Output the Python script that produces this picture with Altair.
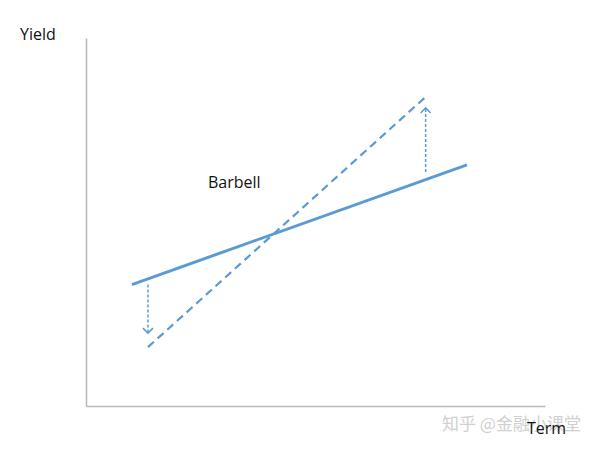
import altair as alt
import pandas as pd

# Values (Term / Yield in arbitrary 0-100 units)
solid_term = [10, 83]
solid_yield = [33, 65.5]
dashed_term = [13.5, 74]
dashed_yield = [16, 84]
arrow_term = [13.5, 74]
arrow_from = [33, 63.6]
arrow_to = [19.8, 81]

W, H = 459, 368
xs = alt.Scale(domain=[0, 100], nice=False, zero=False)
ys = alt.Scale(domain=[0, 100], nice=False, zero=False)
BLUE = "#5b9bd5"

solid_df = pd.DataFrame({"t": solid_term, "y": solid_yield})
dashed_df = pd.DataFrame({"t": dashed_term, "y": dashed_yield})
arrow_df = pd.DataFrame({"t": arrow_term, "y0": arrow_from, "y1": arrow_to,
                         "dir": ["down", "up"]})

axis_x = alt.Axis(title=None, labels=False, ticks=False, grid=False,
                  domainColor="#b4bcc0", domainWidth=1.6)
axis_y = alt.Axis(title=None, labels=False, ticks=False, grid=False,
                  domainColor="#b4bcc0", domainWidth=1.6)

solid = alt.Chart(solid_df).mark_line(color=BLUE, strokeWidth=3).encode(
    x=alt.X("t:Q", scale=xs, axis=axis_x),
    y=alt.Y("y:Q", scale=ys, axis=axis_y),
)
dashed = alt.Chart(dashed_df).mark_line(color=BLUE, strokeWidth=2.2,
                                        strokeDash=[8, 5]).encode(
    x=alt.X("t:Q", scale=xs), y=alt.Y("y:Q", scale=ys))

stems = alt.Chart(arrow_df).mark_rule(color=BLUE, strokeWidth=1.5,
                                      strokeDash=[3, 2]).encode(
    x=alt.X("t:Q", scale=xs), y=alt.Y("y0:Q", scale=ys), y2="y1:Q")

head_down = alt.Chart(arrow_df[arrow_df.dir == "down"]).mark_point(
    shape="M-1,-1L0,0L1,-1", filled=False, color=BLUE, strokeWidth=1.5,
    size=100, opacity=1).encode(x=alt.X("t:Q", scale=xs), y=alt.Y("y1:Q", scale=ys))
head_up = alt.Chart(arrow_df[arrow_df.dir == "up"]).mark_point(
    shape="M-1,1L0,0L1,1", filled=False, color=BLUE, strokeWidth=1.5,
    size=100, opacity=1).encode(x=alt.X("t:Q", scale=xs), y=alt.Y("y1:Q", scale=ys))

FONT = "Open Sans"
yield_t = alt.Chart(pd.DataFrame({"s": ["Yield"]})).mark_text(
    font=FONT, fontSize=16, align="left", baseline="middle", color="#111"
).encode(text="s:N", x=alt.value(-66), y=alt.value(-3))
barbell_t = alt.Chart(pd.DataFrame({"s": ["Barbell"]})).mark_text(
    font=FONT, fontSize=16, align="left", baseline="middle", color="#111"
).encode(text="s:N", x=alt.value(122), y=alt.value(145))
watermark = alt.Chart(pd.DataFrame({"s": ["知乎 @金融小课堂"]})).mark_text(
    font="Noto Sans CJK SC", fontSize=17, align="left", baseline="middle",
    color="#d0d0d0"
).encode(text="s:N", x=alt.value(356), y=alt.value(387))
term_t = alt.Chart(pd.DataFrame({"s": ["Term"]})).mark_text(
    font=FONT, fontSize=16, align="left", baseline="middle", color="#111"
).encode(text="s:N", x=alt.value(441), y=alt.value(391))

chart = alt.layer(solid, dashed, stems, head_down, head_up,
                  yield_t, barbell_t, watermark, term_t).properties(
    width=W, height=H,
    background="white",
    autosize=alt.AutoSizeParams(type="none"),
    padding={"left": 78, "top": 30, "right": 46, "bottom": 36},
).configure_view(strokeWidth=0, stroke="transparent")

chart.save("out.html", embed_options={"renderer": "svg", "actions": False})
